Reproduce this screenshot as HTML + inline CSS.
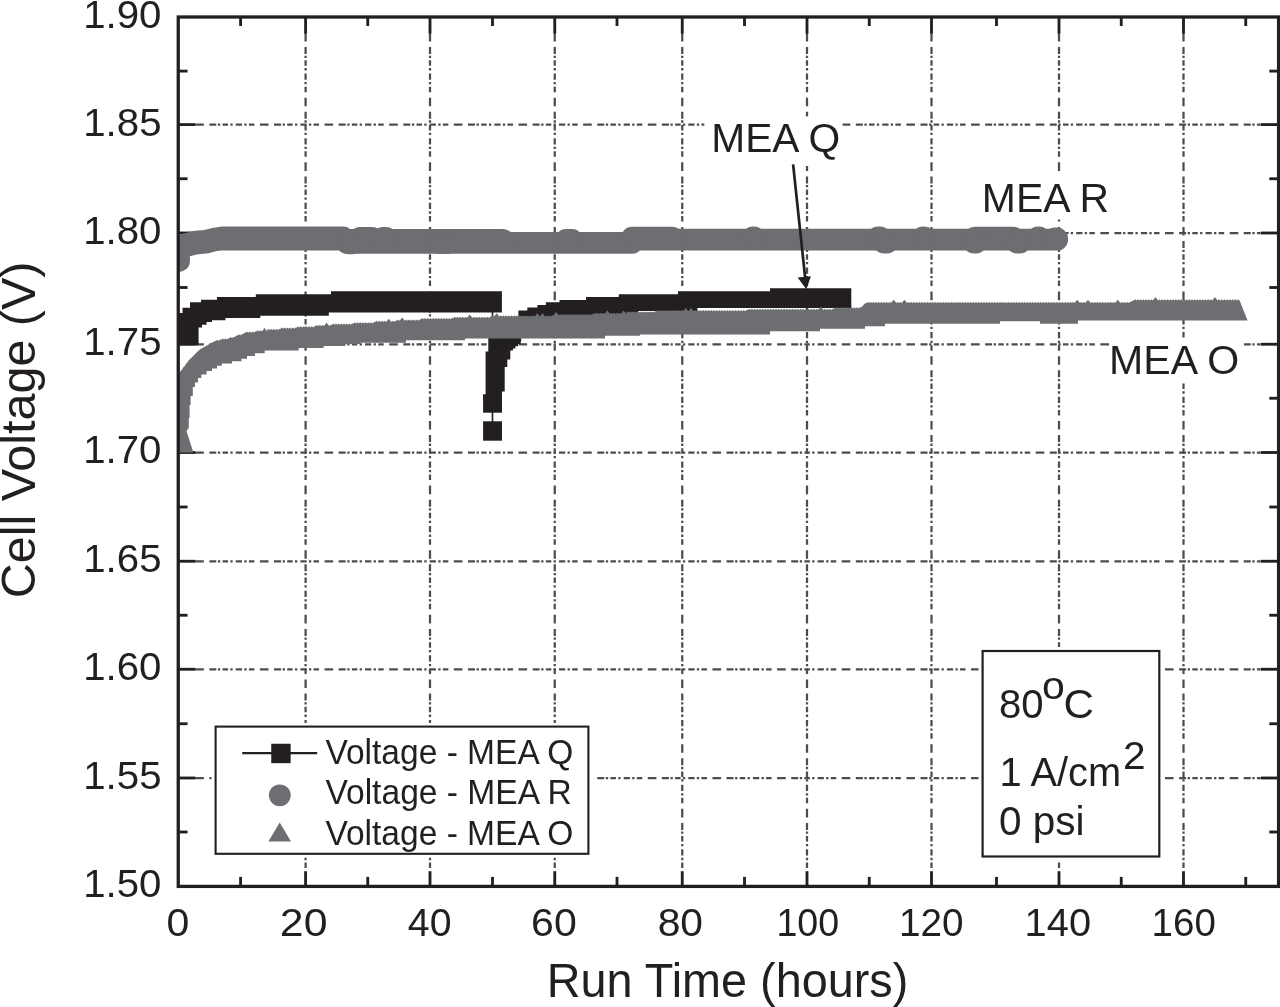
<!DOCTYPE html>
<html lang="en"><head><meta charset="utf-8"><title>Cell Voltage vs Run Time</title>
<style>html,body{margin:0;padding:0;background:#fff}svg{display:block}</style></head>
<body>
<svg width="1280" height="1007" viewBox="0 0 1280 1007" font-family='"Liberation Sans", sans-serif' fill="#231f20">
<rect x="0" y="0" width="1280" height="1007" fill="#fff"/>
<defs><clipPath id="plot"><rect x="178.25" y="17.00" width="1100.35" height="869.40"/></clipPath></defs>
<g stroke="#4c4d4f" stroke-width="2.25" stroke-dasharray="8.6 5.5 7 1.6 2.3 2.3 5.5 2.3 2.3 3.1 6.25 2.3 2.3 2.3 5.5 5.5" fill="none">
<line x1="305.6" y1="33.0" x2="305.6" y2="872.4"/>
<line x1="430" y1="33.0" x2="430" y2="872.4"/>
<line x1="554.75" y1="33.0" x2="554.75" y2="872.4"/>
<line x1="682.25" y1="33.0" x2="682.25" y2="872.4"/>
<line x1="807" y1="33.0" x2="807" y2="872.4"/>
<line x1="931.5" y1="33.0" x2="931.5" y2="872.4"/>
<line x1="1059" y1="33.0" x2="1059" y2="872.4"/>
<line x1="1183.5" y1="33.0" x2="1183.5" y2="872.4"/>
<line x1="195.25" y1="124.6" x2="1260.6" y2="124.6"/>
<line x1="195.25" y1="233" x2="1260.6" y2="233"/>
<line x1="195.25" y1="344.25" x2="1260.6" y2="344.25"/>
<line x1="195.25" y1="452.5" x2="1260.6" y2="452.5"/>
<line x1="195.25" y1="561.25" x2="1260.6" y2="561.25"/>
<line x1="195.25" y1="669.25" x2="1260.6" y2="669.25"/>
<line x1="195.25" y1="778" x2="1260.6" y2="778"/>
</g>
<g stroke="#231f20" fill="none" stroke-width="2.85">
<line x1="240.6" y1="886.4" x2="240.6" y2="876.9"/>
<line x1="240.6" y1="17.0" x2="240.6" y2="26.0"/>
<line x1="305.6" y1="886.4" x2="305.6" y2="871.1999999999999"/>
<line x1="305.6" y1="17.0" x2="305.6" y2="33.6"/>
<line x1="367.75" y1="886.4" x2="367.75" y2="876.9"/>
<line x1="367.75" y1="17.0" x2="367.75" y2="26.0"/>
<line x1="430" y1="886.4" x2="430" y2="871.1999999999999"/>
<line x1="430" y1="17.0" x2="430" y2="33.6"/>
<line x1="492.5" y1="886.4" x2="492.5" y2="876.9"/>
<line x1="492.5" y1="17.0" x2="492.5" y2="26.0"/>
<line x1="554.75" y1="886.4" x2="554.75" y2="871.1999999999999"/>
<line x1="554.75" y1="17.0" x2="554.75" y2="33.6"/>
<line x1="617" y1="886.4" x2="617" y2="876.9"/>
<line x1="617" y1="17.0" x2="617" y2="26.0"/>
<line x1="682.25" y1="886.4" x2="682.25" y2="871.1999999999999"/>
<line x1="682.25" y1="17.0" x2="682.25" y2="33.6"/>
<line x1="744.5" y1="886.4" x2="744.5" y2="876.9"/>
<line x1="744.5" y1="17.0" x2="744.5" y2="26.0"/>
<line x1="807" y1="886.4" x2="807" y2="871.1999999999999"/>
<line x1="807" y1="17.0" x2="807" y2="33.6"/>
<line x1="869.25" y1="886.4" x2="869.25" y2="876.9"/>
<line x1="869.25" y1="17.0" x2="869.25" y2="26.0"/>
<line x1="931.5" y1="886.4" x2="931.5" y2="871.1999999999999"/>
<line x1="931.5" y1="17.0" x2="931.5" y2="33.6"/>
<line x1="996.5" y1="886.4" x2="996.5" y2="876.9"/>
<line x1="996.5" y1="17.0" x2="996.5" y2="26.0"/>
<line x1="1059" y1="886.4" x2="1059" y2="871.1999999999999"/>
<line x1="1059" y1="17.0" x2="1059" y2="33.6"/>
<line x1="1121.25" y1="886.4" x2="1121.25" y2="876.9"/>
<line x1="1121.25" y1="17.0" x2="1121.25" y2="26.0"/>
<line x1="1183.5" y1="886.4" x2="1183.5" y2="871.1999999999999"/>
<line x1="1183.5" y1="17.0" x2="1183.5" y2="33.6"/>
<line x1="1245.75" y1="886.4" x2="1245.75" y2="876.9"/>
<line x1="1245.75" y1="17.0" x2="1245.75" y2="26.0"/>
<line x1="178.25" y1="71.1" x2="187.55" y2="71.1"/>
<line x1="1278.6" y1="71.1" x2="1269.3" y2="71.1"/>
<line x1="178.25" y1="124.6" x2="195.45" y2="124.6"/>
<line x1="1278.6" y1="124.6" x2="1260.8" y2="124.6"/>
<line x1="178.25" y1="178.75" x2="187.55" y2="178.75"/>
<line x1="1278.6" y1="178.75" x2="1269.3" y2="178.75"/>
<line x1="178.25" y1="233" x2="195.45" y2="233"/>
<line x1="1278.6" y1="233" x2="1260.8" y2="233"/>
<line x1="178.25" y1="287.5" x2="187.55" y2="287.5"/>
<line x1="1278.6" y1="287.5" x2="1269.3" y2="287.5"/>
<line x1="178.25" y1="344.25" x2="195.45" y2="344.25"/>
<line x1="1278.6" y1="344.25" x2="1260.8" y2="344.25"/>
<line x1="178.25" y1="398.25" x2="187.55" y2="398.25"/>
<line x1="1278.6" y1="398.25" x2="1269.3" y2="398.25"/>
<line x1="178.25" y1="452.5" x2="195.45" y2="452.5"/>
<line x1="1278.6" y1="452.5" x2="1260.8" y2="452.5"/>
<line x1="178.25" y1="507" x2="187.55" y2="507"/>
<line x1="1278.6" y1="507" x2="1269.3" y2="507"/>
<line x1="178.25" y1="561.25" x2="195.45" y2="561.25"/>
<line x1="1278.6" y1="561.25" x2="1260.8" y2="561.25"/>
<line x1="178.25" y1="615.25" x2="187.55" y2="615.25"/>
<line x1="1278.6" y1="615.25" x2="1269.3" y2="615.25"/>
<line x1="178.25" y1="669.25" x2="195.45" y2="669.25"/>
<line x1="1278.6" y1="669.25" x2="1260.8" y2="669.25"/>
<line x1="178.25" y1="723.75" x2="187.55" y2="723.75"/>
<line x1="1278.6" y1="723.75" x2="1269.3" y2="723.75"/>
<line x1="178.25" y1="778" x2="195.45" y2="778"/>
<line x1="1278.6" y1="778" x2="1260.8" y2="778"/>
<line x1="178.25" y1="832" x2="187.55" y2="832"/>
<line x1="1278.6" y1="832" x2="1269.3" y2="832"/>
</g>
<g clip-path="url(#plot)">
<polygon fill="#231f20" points="178.0,313.0 182.5,313.0 182.5,307.7 190.0,307.7 190.0,302.3 201.0,302.3 201.0,299.7 217.0,299.7 217.0,297.0 255.8,297.0 255.8,294.3 331.0,294.3 331.0,291.2 501.9,291.2 501.9,312.6 328.8,312.6 328.8,315.8 260.3,315.8 260.3,317.9 225.4,317.9 225.4,320.2 212.0,320.2 212.0,322.0 206.6,322.0 206.6,324.7 202.0,324.7 202.0,327.4 198.6,327.4 198.6,345.2 170.0,345.2 170.0,313.0"/>
<line x1="492.5" y1="312" x2="492.5" y2="422" stroke="#231f20" stroke-width="1.6"/>
<rect x="483.1" y="421.3" width="18.9" height="19.4" fill="#231f20"/>
<rect x="483.1" y="394.5" width="18.9" height="18.2" fill="#231f20"/>
<polygon fill="#231f20" points="483.1,394.5 485.6,394.5 485.6,351.4 488.3,351.4 488.3,330.0 521.2,330.0 521.2,341.4 520.7,341.4 520.7,343.9 518.0,343.9 518.0,346.2 515.4,346.2 515.4,348.4 512.9,348.4 512.9,350.6 510.3,350.6 510.3,359.6 507.3,359.6 507.3,367.0 504.7,367.0 504.7,391.6 502.0,391.6 502.0,400.0 483.1,400.0"/>
<polygon fill="#231f20" points="518.4,310.6 527.3,310.6 527.3,307.4 537.4,307.4 537.4,304.9 545.9,304.9 545.9,302.3 559.5,302.3 559.5,300.0 586.0,300.0 586.0,297.0 618.8,297.0 618.8,294.2 678.0,294.2 678.0,291.2 770.0,291.2 770.0,288.2 851.3,288.2 851.3,308.0 697.4,308.0 697.4,310.9 638.1,310.9 638.1,313.9 605.4,313.9 605.4,316.7 578.9,316.7 578.9,319.7 565.3,319.7 565.3,322.0 556.8,322.0 556.8,324.6 546.7,324.6 546.7,327.1 537.8,327.1 537.8,330.3 518.4,330.3"/>
<polyline fill="none" stroke="#6d6e71" stroke-width="21.8" stroke-linecap="round" stroke-linejoin="round" points="179.0,261.0 179.3,254.0 181.0,249.0 186.0,246.0 195.0,243.7 207.5,242.3 214.0,240.5 222.0,239.5 345.0,239.5 347.0,242.8 632.0,242.8 634.0,239.7 1057.0,239.7"/>
<polyline fill="none" stroke="#6d6e71" stroke-width="21.8" stroke-linecap="round" stroke-linejoin="round" points="178.0,248.0 186.0,244.0 196.0,241.5 206.0,240.8 213.0,239.0 222.0,237.5 343.0,237.5"/>
<polyline fill="none" stroke="#6d6e71" stroke-width="21.8" stroke-linecap="round" stroke-linejoin="round" points="347.0,239.8 503.0,239.8"/>
<polyline fill="none" stroke="#6d6e71" stroke-width="21.8" stroke-linecap="round" stroke-linejoin="round" points="360.0,238.0 372.0,238.0"/>
<polyline fill="none" stroke="#6d6e71" stroke-width="21.8" stroke-linecap="round" stroke-linejoin="round" points="383.0,238.0 386.0,238.0"/>
<polyline fill="none" stroke="#6d6e71" stroke-width="21.8" stroke-linecap="round" stroke-linejoin="round" points="566.0,240.0 572.0,240.0"/>
<polyline fill="none" stroke="#6d6e71" stroke-width="21.8" stroke-linecap="round" stroke-linejoin="round" points="632.0,237.6 672.0,237.6"/>
<polyline fill="none" stroke="#6d6e71" stroke-width="21.8" stroke-linecap="round" stroke-linejoin="round" points="753.0,237.5 754.0,237.5"/>
<polyline fill="none" stroke="#6d6e71" stroke-width="21.8" stroke-linecap="round" stroke-linejoin="round" points="878.0,237.5 880.0,237.5"/>
<polyline fill="none" stroke="#6d6e71" stroke-width="21.8" stroke-linecap="round" stroke-linejoin="round" points="923.0,237.5 924.0,237.5"/>
<polyline fill="none" stroke="#6d6e71" stroke-width="21.8" stroke-linecap="round" stroke-linejoin="round" points="975.0,237.6 1013.0,237.6"/>
<polyline fill="none" stroke="#6d6e71" stroke-width="21.8" stroke-linecap="round" stroke-linejoin="round" points="1038.0,237.5 1039.0,237.5"/>
<polyline fill="none" stroke="#6d6e71" stroke-width="21.8" stroke-linecap="round" stroke-linejoin="round" points="1055.0,238.5 1057.0,238.5"/>
<polyline fill="none" stroke="#6d6e71" stroke-width="21.8" stroke-linecap="round" stroke-linejoin="round" points="884.0,242.6 887.0,242.6"/>
<polyline fill="none" stroke="#6d6e71" stroke-width="21.8" stroke-linecap="round" stroke-linejoin="round" points="974.0,242.6 976.0,242.6"/>
<polyline fill="none" stroke="#6d6e71" stroke-width="21.8" stroke-linecap="round" stroke-linejoin="round" points="1017.0,242.6 1020.0,242.6"/>
<polyline fill="none" stroke="#6d6e71" stroke-width="21.8" stroke-linecap="round" stroke-linejoin="round" points="349.0,243.3 352.0,243.3"/>
<polyline fill="none" stroke="#6d6e71" stroke-width="21.8" stroke-linecap="round" stroke-linejoin="round" points="440.0,243.2 446.0,243.2"/>
<polygon fill="#6d6e71" points="170.0,380.7 171.3,379.5 172.7,378.5 174.0,377.3 175.4,376.3 176.7,375.1 178.1,374.1 179.4,372.9 180.8,370.7 182.1,369.5 183.5,367.1 184.8,365.9 186.2,363.4 187.5,362.2 188.9,360.1 190.2,358.9 191.6,357.4 192.9,356.2 194.3,354.7 195.6,353.5 197.0,352.0 198.3,350.8 199.7,349.8 201.0,348.6 202.4,348.3 203.7,347.1 205.1,346.8 206.4,345.6 207.8,345.3 209.1,344.1 210.5,343.8 211.8,342.6 213.2,342.3 214.5,341.1 215.9,340.9 217.2,339.7 218.6,340.9 219.9,339.7 221.3,339.6 222.6,338.4 224.0,339.6 225.3,338.4 226.7,339.6 228.0,338.4 229.4,338.2 230.7,337.0 232.1,338.2 233.4,337.0 234.8,336.9 236.1,335.7 237.5,335.5 238.8,334.3 240.2,335.5 241.5,334.3 242.9,334.2 244.2,333.0 245.6,332.8 246.9,331.6 248.3,332.8 249.6,331.6 251.0,332.8 252.3,331.6 253.7,332.8 255.0,331.6 256.4,331.4 257.7,330.2 259.1,331.4 260.4,330.2 261.8,331.4 264.5,328.1 267.2,331.4 267.2,330.1 268.5,328.9 269.9,330.1 271.2,328.9 272.6,330.1 273.9,328.9 275.3,330.1 276.6,328.9 278.0,330.1 279.3,328.9 280.7,328.8 282.0,327.6 283.4,328.8 284.7,327.6 286.1,328.8 287.4,327.6 288.8,328.8 290.1,327.6 291.5,328.8 292.8,327.6 294.2,328.8 295.5,327.6 296.9,327.4 298.2,326.2 299.6,327.4 300.9,326.2 302.3,327.4 303.6,326.2 305.0,327.4 306.3,326.2 307.7,327.4 309.0,326.2 310.4,327.4 311.7,326.2 313.1,327.4 314.4,326.2 315.8,326.1 317.1,324.9 318.5,326.1 319.8,324.9 321.2,326.1 322.5,324.9 323.9,326.1 326.6,322.8 329.3,326.1 329.3,326.1 330.6,324.9 332.0,324.7 333.3,323.5 334.7,324.7 336.0,323.5 337.4,324.7 338.7,323.5 340.1,324.7 341.4,323.5 342.8,324.7 344.1,323.5 345.5,324.7 346.8,323.5 348.2,324.7 349.5,323.5 350.9,324.7 352.2,323.5 353.6,323.4 354.9,322.2 356.3,323.4 357.6,322.2 359.0,323.4 360.3,322.2 361.7,323.4 363.0,322.2 364.4,323.4 365.7,322.2 367.1,323.4 368.4,322.2 369.8,323.4 371.1,322.2 372.5,323.4 373.8,322.2 375.2,322.0 376.5,320.8 377.9,322.0 379.2,320.8 380.6,322.0 381.9,320.8 383.3,322.0 384.6,320.8 386.0,322.0 388.7,318.7 391.4,322.0 391.4,322.0 392.7,320.8 394.1,322.0 395.4,320.8 396.8,320.7 398.1,319.5 399.5,320.7 402.2,317.4 404.9,320.7 404.9,320.7 406.2,319.5 407.6,320.7 408.9,319.5 410.3,320.7 411.6,319.5 413.0,320.7 414.3,319.5 415.7,320.7 417.0,319.5 418.4,320.7 419.7,319.5 421.1,319.3 422.4,318.1 423.8,319.3 425.1,318.1 426.5,319.3 427.8,318.1 429.2,319.3 430.5,318.1 431.9,319.3 433.2,318.1 434.6,319.3 435.9,318.1 437.3,319.3 438.6,318.1 440.0,319.3 441.3,318.1 442.7,319.3 444.0,318.1 445.4,319.3 446.7,318.1 448.1,319.3 449.4,318.1 450.8,319.3 452.1,318.1 453.5,317.9 454.8,316.8 456.2,317.9 457.5,316.8 458.9,317.9 460.2,316.8 461.6,317.9 462.9,316.8 464.3,317.9 465.6,316.8 467.0,317.9 469.7,314.6 472.4,317.9 472.4,317.9 473.7,316.8 475.1,317.9 476.4,316.8 477.8,317.9 479.1,316.8 480.5,317.9 481.8,316.8 483.2,317.9 484.5,316.8 485.9,317.9 487.2,316.8 488.6,317.9 489.9,316.8 491.3,316.6 492.6,315.4 494.0,316.6 496.7,313.3 499.4,316.6 499.4,316.6 500.7,315.4 502.1,316.6 503.4,315.4 504.8,316.6 506.1,315.4 507.5,316.6 508.8,315.4 510.2,316.6 511.5,315.4 512.9,316.6 514.2,315.4 515.6,316.6 516.9,315.4 518.3,316.6 519.6,315.4 521.0,316.6 522.3,315.4 523.7,316.6 525.0,315.4 526.4,316.6 527.7,315.4 529.1,316.6 530.4,315.4 531.8,316.6 533.1,315.4 534.5,316.6 537.2,313.3 539.9,316.6 539.9,316.6 542.6,313.3 545.3,316.6 545.3,316.6 546.6,315.4 548.0,316.6 549.3,315.4 550.7,316.6 552.0,315.4 553.4,315.2 556.1,311.9 558.8,315.2 558.8,315.2 560.1,314.1 561.5,315.2 562.8,314.1 564.2,315.2 565.5,314.1 566.9,315.2 568.2,314.1 569.6,315.2 570.9,314.1 572.3,315.2 573.6,314.1 575.0,315.2 576.3,314.1 577.7,315.2 579.0,314.1 580.4,315.2 581.7,314.1 583.1,315.2 584.4,314.1 585.8,315.2 587.1,314.1 588.5,315.2 589.8,314.1 591.2,315.2 592.5,314.1 593.9,313.9 595.2,312.7 596.6,313.9 598.0,312.7 599.3,313.9 600.7,312.7 602.0,313.9 603.4,312.7 604.7,313.9 607.4,310.6 610.1,313.9 610.1,313.9 611.5,312.7 612.8,313.9 614.2,312.7 615.5,313.9 616.9,312.7 618.2,313.9 619.6,312.7 620.9,313.9 623.6,310.6 626.3,313.9 626.3,312.6 627.7,311.4 629.0,312.6 630.4,311.4 631.7,312.6 633.1,311.4 634.4,312.6 635.8,311.4 637.1,312.6 638.5,311.4 639.8,312.6 641.2,311.4 642.5,312.6 643.9,311.4 645.2,312.6 646.6,311.4 647.9,312.6 649.3,311.4 650.6,312.6 652.0,311.4 653.3,312.6 654.7,311.4 656.0,311.2 657.4,310.0 658.7,311.2 660.1,310.0 661.4,311.2 662.8,310.0 664.1,311.2 665.5,310.0 666.8,311.2 668.2,310.0 669.5,311.2 670.9,310.0 672.2,311.2 673.6,310.0 674.9,311.2 676.3,310.0 677.6,311.2 679.0,310.0 680.3,311.2 681.7,310.0 683.0,311.2 685.7,307.9 688.4,311.2 688.4,311.2 691.1,307.9 693.8,311.2 693.8,311.2 695.2,310.0 696.5,311.2 697.9,310.0 699.2,311.2 700.6,310.0 701.9,311.2 703.3,310.0 704.6,311.2 706.0,310.0 707.3,311.2 708.7,310.0 710.0,311.2 711.4,310.0 712.7,311.2 714.1,310.0 715.4,311.2 716.8,310.0 718.1,311.2 719.5,310.0 720.8,311.2 722.2,310.0 723.5,311.2 724.9,310.0 726.2,311.2 727.6,310.0 728.9,311.2 730.3,310.0 731.6,311.2 733.0,310.0 734.3,311.2 735.7,310.0 737.0,311.2 738.4,310.0 739.7,311.2 741.1,310.0 742.4,311.2 743.8,310.0 745.1,311.2 746.5,310.0 747.8,309.9 749.2,308.7 750.5,309.9 751.9,308.7 753.2,309.9 754.6,308.7 755.9,309.9 757.3,308.7 758.6,309.9 760.0,308.7 761.3,309.9 762.7,308.7 764.0,309.9 765.4,308.7 766.7,309.9 768.1,308.7 769.4,309.9 770.8,308.7 772.1,309.9 773.5,308.7 774.8,309.9 776.2,308.7 777.5,309.9 778.9,308.7 780.2,309.9 781.6,308.7 782.9,309.9 784.3,308.7 785.6,309.9 787.0,308.7 788.3,309.9 789.7,308.7 791.0,309.9 792.4,308.7 793.7,309.9 795.1,308.7 796.4,309.9 797.8,308.7 799.1,309.9 800.5,308.7 801.8,309.9 803.2,308.7 804.5,309.9 805.9,308.7 807.2,309.9 808.6,308.7 809.9,309.9 811.3,308.7 812.6,309.9 814.0,308.7 815.3,309.9 816.7,308.7 818.0,309.9 820.7,306.6 823.4,309.9 823.4,309.9 824.8,308.7 826.1,309.9 827.5,308.7 828.8,309.9 830.2,308.7 831.5,309.9 832.9,308.7 834.2,308.5 835.6,307.3 836.9,308.5 838.3,307.3 839.6,308.5 841.0,307.3 842.3,308.5 843.7,307.3 845.0,308.5 846.4,307.3 847.7,308.5 849.1,307.3 850.4,308.5 851.8,307.3 853.1,308.5 854.5,307.3 855.8,308.5 857.2,307.3 858.5,308.5 859.9,307.3 861.2,307.2 862.6,306.0 863.9,304.4 865.3,303.2 866.6,303.1 868.0,301.9 869.3,303.1 870.7,301.9 872.0,303.1 873.4,301.9 874.7,303.1 876.1,301.9 877.4,303.1 878.8,301.9 880.1,303.1 881.5,301.9 882.8,303.1 884.2,301.9 885.5,303.1 886.9,301.9 888.2,303.1 889.6,301.9 890.9,303.1 893.6,299.8 896.3,303.1 896.3,303.1 897.7,301.9 899.0,303.1 900.4,301.9 901.7,303.1 904.4,299.8 907.1,303.1 907.1,303.1 908.5,301.9 909.8,303.1 911.2,301.9 912.5,303.1 913.9,301.9 915.2,303.1 916.6,301.9 917.9,303.1 919.3,301.9 920.6,303.1 922.0,301.9 923.3,303.1 924.7,301.9 926.0,303.1 927.4,301.9 928.7,303.1 930.1,301.9 931.4,303.1 932.8,301.9 934.1,303.1 935.5,301.9 936.8,303.1 938.2,301.9 939.5,303.1 940.9,301.9 942.2,303.1 943.6,301.9 944.9,303.1 946.3,301.9 947.6,303.1 949.0,301.9 950.3,303.1 951.7,301.9 953.0,303.1 954.4,301.9 955.7,303.1 957.1,301.9 958.4,303.1 959.8,301.9 961.1,303.1 962.5,301.9 963.8,303.1 965.2,301.9 966.5,303.1 967.9,301.9 969.2,303.1 970.6,301.9 971.9,303.1 973.3,301.9 974.6,303.1 976.0,301.9 977.3,303.1 978.7,301.9 980.0,303.1 981.4,301.9 982.7,303.1 984.1,301.9 985.4,303.1 986.8,301.9 988.1,303.1 989.5,301.9 990.8,303.1 992.2,301.9 993.5,303.1 994.9,301.9 996.2,303.1 997.6,301.9 998.9,303.1 1000.3,301.9 1001.6,303.1 1003.0,301.9 1004.3,303.1 1005.7,301.9 1007.0,303.1 1008.4,301.9 1009.7,303.1 1011.1,301.9 1012.4,303.1 1013.8,301.9 1015.1,303.1 1016.5,301.9 1017.8,303.1 1019.2,301.9 1020.5,303.1 1021.9,301.9 1023.2,303.1 1024.6,301.9 1025.9,303.1 1027.3,301.9 1028.6,303.1 1030.0,301.9 1031.3,303.1 1032.7,301.9 1034.0,303.1 1035.4,301.9 1036.7,303.1 1038.1,301.9 1039.4,303.1 1040.8,301.9 1042.1,303.1 1043.5,301.9 1044.8,303.1 1046.2,301.9 1047.5,303.1 1048.9,301.9 1050.2,303.1 1051.6,301.9 1052.9,303.1 1054.3,301.9 1055.6,303.1 1057.0,301.9 1058.3,303.1 1059.7,301.9 1061.0,303.1 1062.4,301.9 1063.7,303.1 1065.1,301.9 1066.4,303.1 1067.8,301.9 1069.1,303.1 1070.5,301.9 1071.8,303.1 1073.2,301.9 1074.5,303.1 1077.2,299.8 1079.9,303.1 1079.9,303.1 1081.3,301.9 1082.6,303.1 1084.0,301.9 1085.3,303.1 1088.0,299.8 1090.7,303.1 1090.7,303.1 1092.1,301.9 1093.4,303.1 1094.8,301.9 1096.1,303.1 1097.5,301.9 1098.8,303.1 1100.2,301.9 1101.5,303.1 1102.9,301.9 1104.2,303.1 1105.6,301.9 1106.9,303.1 1108.3,301.9 1109.6,303.1 1111.0,301.9 1112.3,303.1 1113.7,301.9 1115.0,303.1 1117.7,299.8 1120.4,303.1 1120.4,303.1 1121.8,301.9 1123.1,303.1 1124.5,301.9 1125.8,303.1 1127.2,301.9 1128.5,303.1 1129.9,301.9 1131.2,301.8 1132.6,300.6 1133.9,300.4 1135.3,299.2 1136.6,300.4 1138.0,299.2 1139.3,300.4 1140.7,299.2 1142.0,300.4 1143.4,299.2 1144.7,300.4 1146.1,299.2 1147.4,300.4 1148.8,299.2 1150.1,300.4 1151.5,299.2 1152.8,300.4 1155.5,297.1 1158.2,300.4 1158.2,300.4 1159.6,299.2 1160.9,300.4 1162.3,299.2 1163.6,300.4 1165.0,299.2 1166.3,300.4 1167.7,299.2 1169.0,300.4 1170.4,299.2 1171.7,300.4 1173.1,299.2 1174.4,300.4 1175.8,299.2 1177.1,300.4 1178.5,299.2 1179.8,300.4 1181.2,299.2 1182.5,300.4 1183.9,299.2 1185.2,300.4 1186.6,299.2 1187.9,300.4 1189.3,299.2 1190.6,300.4 1192.0,299.2 1193.3,300.4 1194.7,299.2 1196.0,300.4 1197.4,299.2 1198.7,300.4 1200.1,299.2 1201.4,300.4 1202.8,299.2 1204.1,300.4 1205.5,299.2 1206.8,300.4 1208.2,299.2 1209.5,300.4 1210.9,299.2 1212.2,300.4 1214.9,297.1 1217.6,300.4 1217.6,300.4 1219.0,299.2 1220.3,300.4 1221.7,299.2 1223.0,300.4 1224.4,299.2 1225.7,300.4 1227.1,299.2 1228.4,300.4 1229.8,299.2 1231.1,300.4 1232.5,299.2 1233.8,300.4 1235.2,299.2 1236.5,300.4 1237.9,299.2 1239.2,300.4 1240.6,299.2 1239.5,300.3 1247.6,320.6 1078.0,320.6 1078.0,323.8 1040.0,323.8 1040.0,321.2 1000.0,321.2 1000.0,323.8 885.0,323.8 885.0,326.2 865.0,326.2 865.0,328.8 820.0,328.8 820.0,331.2 770.0,331.2 770.0,334.5 640.0,334.5 640.0,335.8 605.0,335.8 605.0,338.6 465.0,338.6 465.0,340.2 406.0,340.2 406.0,342.8 360.0,342.8 360.0,344.0 345.0,344.0 345.0,346.0 323.7,346.0 323.7,347.9 298.7,347.9 298.7,350.6 264.7,350.6 264.7,353.3 255.0,353.3 255.0,356.0 247.0,356.0 247.0,358.7 241.5,358.7 241.5,361.3 232.0,361.3 232.0,363.6 221.8,363.6 221.8,365.8 217.0,365.8 217.0,368.5 212.0,368.5 212.0,371.0 206.5,371.0 206.5,374.5 201.3,374.5 201.3,378.0 198.0,378.0 198.0,382.5 195.0,382.5 195.0,387.0 192.8,387.0 192.8,396.0 190.6,396.0 190.6,405.0 189.6,405.0 189.6,418.0 188.8,418.0 188.8,428.0 186.5,431.0 193.4,452.4 170.0,452.4"/>
</g>
<rect x="704.3" y="116.4" width="138.3" height="49.6" fill="#fff"/>
<rect x="975" y="171" width="142" height="48.5" fill="#fff"/>
<rect x="1109.5" y="337.5" width="134" height="45" fill="#fff"/>
<line x1="793.1" y1="164.3" x2="805.4" y2="280" stroke="#231f20" stroke-width="2.7"/>
<polygon fill="#231f20" points="806.4,289.2 797.6,277.6 810.9,276.2"/>
<rect x="178.25" y="17.0" width="1100.35" height="869.4" stroke="#231f20" fill="none" stroke-width="3.3"/>
<text transform="translate(83.18,27.90) scale(1.0131,1)" font-size="39.7" >1.90</text>
<text transform="translate(83.18,135.50) scale(1.0144,1)" font-size="39.7" >1.85</text>
<text transform="translate(83.18,243.90) scale(1.0131,1)" font-size="39.7" >1.80</text>
<text transform="translate(83.18,355.15) scale(1.0144,1)" font-size="39.7" >1.75</text>
<text transform="translate(83.18,463.40) scale(1.0131,1)" font-size="39.7" >1.70</text>
<text transform="translate(83.18,572.15) scale(1.0144,1)" font-size="39.7" >1.65</text>
<text transform="translate(83.18,680.15) scale(1.0131,1)" font-size="39.7" >1.60</text>
<text transform="translate(83.18,788.90) scale(1.0144,1)" font-size="39.7" >1.55</text>
<text transform="translate(83.18,897.30) scale(1.0131,1)" font-size="39.7" >1.50</text>
<text transform="translate(166.56,935.60) scale(1.0339,1)" font-size="39.7" >0</text>
<text transform="translate(279.86,935.60) scale(1.0778,1)" font-size="39.7" >20</text>
<text transform="translate(407.87,935.60) scale(0.9896,1)" font-size="39.7" >40</text>
<text transform="translate(531.05,935.60) scale(1.0347,1)" font-size="39.7" >60</text>
<text transform="translate(657.67,935.60) scale(1.0271,1)" font-size="39.7" >80</text>
<text transform="translate(776.38,935.60) scale(0.9460,1)" font-size="39.7" >100</text>
<text transform="translate(899.00,935.60) scale(0.9752,1)" font-size="39.7" >120</text>
<text transform="translate(1024.61,935.60) scale(1.0027,1)" font-size="39.7" >140</text>
<text transform="translate(1151.61,935.60) scale(0.9703,1)" font-size="39.7" >160</text>
<text transform="translate(546.74,997.20) scale(0.9816,1)" font-size="47.7" >Run Time (hours)</text>
<text transform="translate(35.10,598.32) rotate(-90) scale(1.0251,1)" font-size="47.3" >Cell Voltage (V)</text>
<text transform="translate(711.29,151.85) scale(1.0076,1)" font-size="40.4" >MEA Q</text>
<text transform="translate(981.82,211.90) scale(1.0133,1)" font-size="40.4" >MEA R</text>
<text transform="translate(1109.11,373.80) scale(1.0178,1)" font-size="40.4" >MEA O</text>
<rect x="211.5" y="723" width="381" height="134" fill="#fff"/>
<rect x="215.6" y="726.6" width="372.8" height="127.2" fill="#fff" stroke="#231f20" stroke-width="2.1"/>
<line x1="242.2" y1="753.2" x2="317.2" y2="753.2" stroke="#231f20" stroke-width="2.3"/>
<rect x="271.25" y="743.75" width="19.4" height="19.4" fill="#231f20"/>
<circle cx="279.8" cy="795.3" r="10.9" fill="#6d6e71"/>
<polygon points="279.7,822.6 291.0,841.4 268.4,841.4" fill="#6d6e71"/>
<text transform="translate(325.43,764.00) scale(0.9587,1)" font-size="35.0" >Voltage - MEA Q</text>
<text transform="translate(325.43,804.30) scale(0.9597,1)" font-size="35.0" >Voltage - MEA R</text>
<text transform="translate(325.43,844.90) scale(0.9587,1)" font-size="35.0" >Voltage - MEA O</text>
<rect x="978.5" y="647" width="185" height="213.5" fill="#fff"/>
<rect x="982.6" y="651" width="176.7" height="205.5" fill="#fff" stroke="#231f20" stroke-width="2.2"/>
<text transform="translate(998.90,718.30) scale(0.9901,1)" font-size="40.5" >80</text>
<text transform="translate(1042.01,699.40) scale(1.0637,1)" font-size="38.5" >o</text>
<text transform="translate(1063.49,718.30) scale(1.0404,1)" font-size="40.5" >C</text>
<text transform="translate(999.52,786.00) scale(0.9999,1)" font-size="39.8" >1 A/cm</text>
<text transform="translate(1122.97,769.30) scale(1.0561,1)" font-size="38.5" >2</text>
<text transform="translate(998.98,835.00) scale(1.0188,1)" font-size="39.8" >0 psi</text>
</svg>
</body></html>
